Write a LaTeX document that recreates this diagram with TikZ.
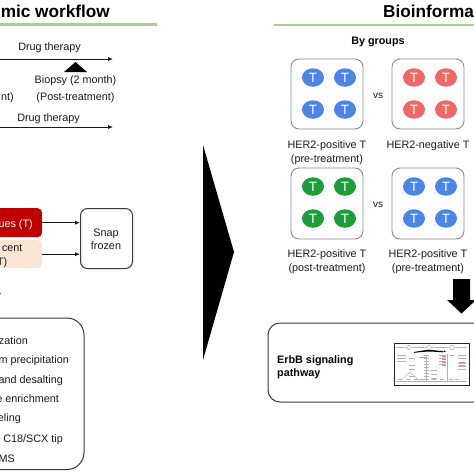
\documentclass[tikz,border=0pt]{standalone}
\usepackage{fontspec}
\setmainfont{Liberation Sans}
\usetikzlibrary{arrows.meta,shapes.geometric}
\definecolor{titlegreen}{HTML}{A9D18E}
\definecolor{darkred}{HTML}{C00000}
\definecolor{peach}{HTML}{FBE5D6}
\definecolor{tblue}{HTML}{4A86E8}
\definecolor{tred}{HTML}{EB6A65}
\definecolor{tgreen}{HTML}{1A9E38}
\definecolor{boxgray}{HTML}{8A8A8A}
\definecolor{linegray}{HTML}{3A3A3A}
\definecolor{ink}{HTML}{1A1A1A}
\begin{document}
\begin{tikzpicture}[x=1pt,y=-1pt,
  txt/.style={inner sep=0pt, text=ink, font=\fontsize{10.8}{13}\selectfont},
  btxt/.style={inner sep=0pt, text=black, font=\fontsize{10.8}{13}\selectfont\bfseries},
  ttl/.style={inner sep=0pt, text=black, font=\fontsize{17.2}{20}\selectfont\bfseries},
  arr/.style={draw=ink, line width=0.9pt, -{Latex[length=5pt,width=4.2pt]}},
  grpbox/.style={draw=boxgray, line width=0.9pt, rounded corners=8pt},
  procbox/.style={draw=linegray, line width=1pt},
  tcirc/.style={ellipse, minimum width=22pt, minimum height=18.5pt, inner sep=0pt,
     text=white, font=\fontsize{13.5}{14}\selectfont},
  mini/.style={draw=gray!60, line width=0.7pt},
]
\path[use as bounding box, clip] (0,0) rectangle (474,474);
\fill[white] (0,0) rectangle (474,474);

% ---------- left titles ----------
\node[ttl, anchor=base east] (ltitle) at (110,17) {mic workflow};
\draw[titlegreen, line width=2.8pt] (-5,24.5) -- (157,24.5);

% timeline
\coordinate (t1s) at (-5,59);
\coordinate (t1e) at (113,59);
\coordinate (t2s) at (-5,127);
\coordinate (t2e) at (113,127);
\node[txt, anchor=base] (drug1) at (49.5,50) {Drug therapy};
\draw[arr] (t1s) -- (t1e);
\fill[black] (64,72) -- (75.5,62) -- (87,72) -- cycle;
\node[txt, anchor=base] (biopsy) at (75.5,83) {Biopsy (2 month)};
\node[txt, anchor=base east] (pre) at (14,100) {nt)};
\node[txt, anchor=base] (post) at (75.5,100) {(Post-treatment)};
\node[txt, anchor=base] (drug2) at (48.5,121.5) {Drug therapy};
\draw[arr] (t2s) -- (t2e);

% tissues
\node[fill=darkred, rounded corners=4pt, minimum width=62pt, minimum height=29pt, inner sep=0pt, anchor=north east] (tumor) at (42,208) {};
\node[inner sep=0pt, anchor=base east, text=white, font=\fontsize{10.8}{13}\selectfont] (tumortxt) at (33,227) {ues (T)};
\node[fill=peach, rounded corners=4pt, minimum width=62pt, minimum height=28pt, inner sep=0pt, anchor=north east] (adj) at (42,240) {};
\node[txt, anchor=base east] (adjtxt1) at (22.7,251.5) {cent};
\node[txt, anchor=base east] (adjtxt2) at (7.5,265) {T)};
\node[draw=linegray, line width=1pt, rounded corners=7pt, minimum width=52pt, minimum height=60pt, inner sep=0pt, anchor=north west] (snap) at (80,208) {};
\node[txt, anchor=base] (snap1) at (106,236) {Snap};
\node[txt, anchor=base] (snap2) at (106,249) {frozen};
\draw[arr] (tumor.east) -- (snap.west |- tumor.east);
\draw[arr] (adj.east) -- (snap.west |- adj.east);

% small arrow into process box
\coordinate (pa) at (-1.2,270);
\coordinate (pb) at (-1.2,298);
\draw[arr] (pa) -- (pb);

% process box
\draw[procbox, rounded corners=17pt] (-30,318) rectangle (84,469.5);
\node[txt, anchor=base east] (p1) at (28,344) {zation};
\node[txt, anchor=base east] (p2) at (69,363) {m precipitation};
\node[txt, anchor=base east] (p3) at (63,383) {and desalting};
\node[txt, anchor=base east] (p4) at (59,402.5) {e enrichment};
\node[txt, anchor=base east] (p5) at (21,421.5) {eling};
\node[txt, anchor=base east] (p6) at (63,442) {C18/SCX tip};
\node[txt, anchor=base east] (p7) at (15,462) {MS};

% big right-pointing arrow
\fill[black] (203,145) -- (234,252) -- (203,360) -- cycle;

% ---------- right side ----------
\node[ttl, anchor=base west] (rtitle) at (383,17) {Bioinforma};
\draw[titlegreen, line width=2.8pt] (274,25) -- (480,25);
\node[btxt, anchor=base] (bygroups) at (378,44) {By groups};

% group boxes
\draw[grpbox] (291,59) rectangle (363,129);
\draw[grpbox] (392,59) rectangle (464,129);
\draw[grpbox] (291,168) rectangle (363,239);
\draw[grpbox] (392,168) rectangle (464,239);

\foreach \x in {313,345} \foreach \y in {77.5,109.5} {
  \node[tcirc, fill=tblue] at (\x,\y) {T};
  \node[tcirc, fill=tred] at (\x+101,\y) {T};
}
\foreach \x in {313,345} \foreach \y in {186.5,218.5} {
  \node[tcirc, fill=tgreen] at (\x,\y) {T};
  \node[tcirc, fill=tblue] at (\x+101,\y) {T};
}

\node[txt, anchor=base, font=\fontsize{10}{12}\selectfont] (vs1) at (378,98.5) {vs};
\node[txt, anchor=base, font=\fontsize{10}{12}\selectfont] (vs2) at (378,207) {vs};

\node[txt, anchor=base] (l1a) at (327,148.5) {HER2-positive T};
\node[txt, anchor=base] (l1b) at (327,162.5) {(pre-treatment)};
\node[txt, anchor=base] (l2a) at (428,148.5) {HER2-negative T};
\node[txt, anchor=base] (l3a) at (327,257) {HER2-positive T};
\node[txt, anchor=base] (l3b) at (327,271) {(post-treatment)};
\node[txt, anchor=base] (l4a) at (428,257) {HER2-positive T};
\node[txt, anchor=base] (l4b) at (428,271) {(pre-treatment)};

% down arrow
\fill[black] (453,279) -- (470,279) -- (470,300) -- (476,300) -- (461.5,313.5) -- (447,300) -- (453,300) -- cycle;

% result box
\draw[procbox, rounded corners=12pt] (268,323) rectangle (500,402);
\node[btxt, anchor=base west] (erbb1) at (277,363) {ErbB signaling};
\node[btxt, anchor=base west] (erbb2) at (277,376) {pathway};

% pathway miniature
\begin{scope}
\fill[white] (394,343) rectangle (469,385);
\draw[line width=0.5pt, gray!50] (396,347.5) -- (467,347.5);
\foreach \x in {409,429,452} \draw[gray!70, line width=0.5pt, fill=white] (\x,347.5) circle (2.2);
\foreach \x/\w in {398/5,414/6,420/4,436/6,441/5,458/5} \draw[mini] (\x,347.5) -- ++(\w,0);
\fill[black] (414,352) .. controls (428,349.5) .. (443,351.2) -- (443,352.3) .. controls (428,351.3) .. (414,352.8) -- cycle;
\draw[-{Latex[length=2pt,width=2pt]}, line width=0.3pt] (440,351) -- (446,351.5);
% columns of tiny labels
\foreach \y in {355,358,361} \draw[mini] (397,\y) -- ++(9,0);
\foreach \y in {358,365,369,376} \draw[mini] (409,\y) -- ++(6,0);
\draw[mini] (419,357) -- ++(8,0);
\foreach \y in {355,358,361,364,367,370,373,376,379} \draw[mini] (424,\y) -- ++(5,0);
\foreach \y in {355,358,361,364} \draw[mini] (439,\y) -- ++(7,0);
\foreach \y in {356,359,362,365} \draw[red!55, line width=0.5pt] (442,\y) -- ++(4,0);
\draw[mini] (450,355) -- ++(4,0);
\foreach \y in {355,358,363,366,369} \draw[mini] (458,\y) -- ++(8,0);
\foreach \y in {362,365} \draw[red!45, line width=0.4pt] (459,\y) -- ++(6,0);
\draw[gray!60, line width=0.4pt] (400,381) -- (410,372) -- (420,381);
\draw[gray!60, line width=0.4pt] (426,356) -- (426,382);
\draw[gray!60, line width=0.4pt] (447,354) -- (447,382);
\foreach \y in {370,374,378} \draw[mini] (431,\y) -- ++(6,0);
\draw[gray!60, line width=0.5pt] (396,381.5) -- (467,381.5);
\foreach \x in {398,406,414,420,432,440,449,455} \draw[mini] (\x,379) -- ++(4,0);
\draw[line width=0.9pt, black!85] (394,343) rectangle (469,385);
\end{scope}
\end{tikzpicture}
\end{document}
